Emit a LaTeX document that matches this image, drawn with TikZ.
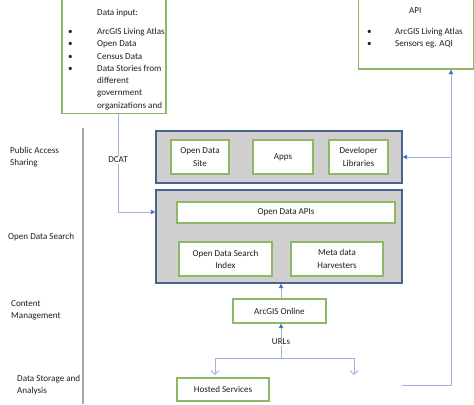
\documentclass[tikz,border=0pt]{standalone}
\usepackage{fontspec}
\setmainfont{Carlito}
\usetikzlibrary{arrows.meta}
\definecolor{boxgreen}{HTML}{8DB865}
\definecolor{boxblue}{HTML}{4A648F}
\definecolor{boxgray}{HTML}{D0CECE}
\definecolor{linkblue}{HTML}{9DB3DC}
\definecolor{tipblue}{HTML}{4472C4}
\definecolor{txt}{HTML}{1F1F1F}
\begin{document}
\begin{tikzpicture}[x=1bp, y=-1bp,
  every node/.style={font=\fontsize{9.1}{12.3}\selectfont, text=txt},
  greenbox/.style={draw=boxgreen, line width=1.4bp, fill=white, inner sep=0pt, align=center},
  graybox/.style={draw=boxblue, line width=1.4bp, fill=boxgray, inner sep=0pt},
  conn/.style={draw=linkblue, line width=0.9bp},
  tip/.style={conn, -{Triangle[length=4.5bp, width=4.5bp, color=tipblue]}},
  vtip/.style={conn, -{Straight Barb[length=4bp, width=8bp, line width=0.8bp]}},
  lbl/.style={align=left, inner sep=0pt}]
\useasboundingbox (0,0) rectangle (474,404);
\node[greenbox, minimum width=104bp, minimum height=117bp] (datain) at (114,55){};
\node[lbl, anchor=north west] (dataintxt) at (68,7){\begin{tabular}{@{}p{29bp}@{}l@{}}
 & Data input:\\[6.5bp]
\textbullet & ArcGIS Living Atlas\\
\textbullet & Open Data\\
\textbullet & Census Data\\
\textbullet & Data Stories from\\
 & different\\
 & government\\
 & organizations and
\end{tabular}};
\node[greenbox, minimum width=115bp, minimum height=72bp] (api) at (416,33){};
\node[lbl, anchor=north west] (apitxt) at (367,5){\begin{tabular}{@{}p{28bp}@{}l@{}}
 & \hspace{14bp}API\\[8bp]
\textbullet & ArcGIS Living Atlas\\
\textbullet & Sensors eg. AQI
\end{tabular}};
\node[graybox, minimum width=246bp, minimum height=52bp] (access) at (279,157){};
\node[greenbox, minimum width=58bp, minimum height=34bp] (site) at (200,157){Open Data\\Site};
\node[greenbox, minimum width=60bp, minimum height=34bp] (apps) at (283,157){Apps};
\node[greenbox, minimum width=59bp, minimum height=34bp] (devlib) at (358.5,157){Developer\\Libraries};
\node[graybox, minimum width=246bp, minimum height=93bp] (search) at (279,236.5){};
\node[greenbox, minimum width=218bp, minimum height=21bp] (odapi) at (286,212.5){Open Data APIs};
\node[greenbox, minimum width=93bp, minimum height=34bp] (index) at (225.5,259){Open Data Search\\Index};
\node[greenbox, minimum width=92bp, minimum height=34bp] (meta) at (337,259){Meta data\\Harvesters};
\node[greenbox, minimum width=93bp, minimum height=24bp] (arcgis) at (279.5,311){ArcGIS Online};
\node[greenbox, minimum width=92bp, minimum height=23bp] (hosted) at (223,389.5){Hosted Services};
\node[lbl, anchor=west] (lpublic) at (10,157){Public Access\\Sharing};
\node[lbl, anchor=west] (lsearch) at (8,237){Open Data Search};
\node[lbl, anchor=west] (lcontent) at (11,310){Content\\Management};
\node[lbl, anchor=west] (lstorage) at (17,385){Data Storage and\\Analysis};
\coordinate (axtop) at (83,128);
\coordinate (axbot) at (83,404);
\draw[draw=black!35, line width=1.4bp] (axtop) -- (axbot);
\coordinate (apifoot) at (402,385);
\coordinate (apibranch) at (451,157);
\coordinate (urlsplit) at (281,358);
\coordinate (urlleft) at (215,375);
\coordinate (urlright) at (354,375);
\draw[tip] ([xshift=4bp]datain.south) |- (search.west |- 0,212);
\node[fill=white, inner sep=1.5bp] (dcat) at (118,160){DCAT};
\draw[tip] (apifoot) -| (api.south -| 451,0);
\draw[tip] (apibranch) -- (access.east);
\draw[tip] (arcgis.north -| 281,0) -- (search.south -| 281,0);
\draw[tip] (urlsplit) -- (arcgis.south -| 281,0);
\node[fill=white, inner sep=1bp] (urls) at (281,342){URLs};
\draw[vtip] (urlsplit) -| (urlleft);
\draw[vtip] (urlsplit) -| (urlright);
\end{tikzpicture}
\end{document}
